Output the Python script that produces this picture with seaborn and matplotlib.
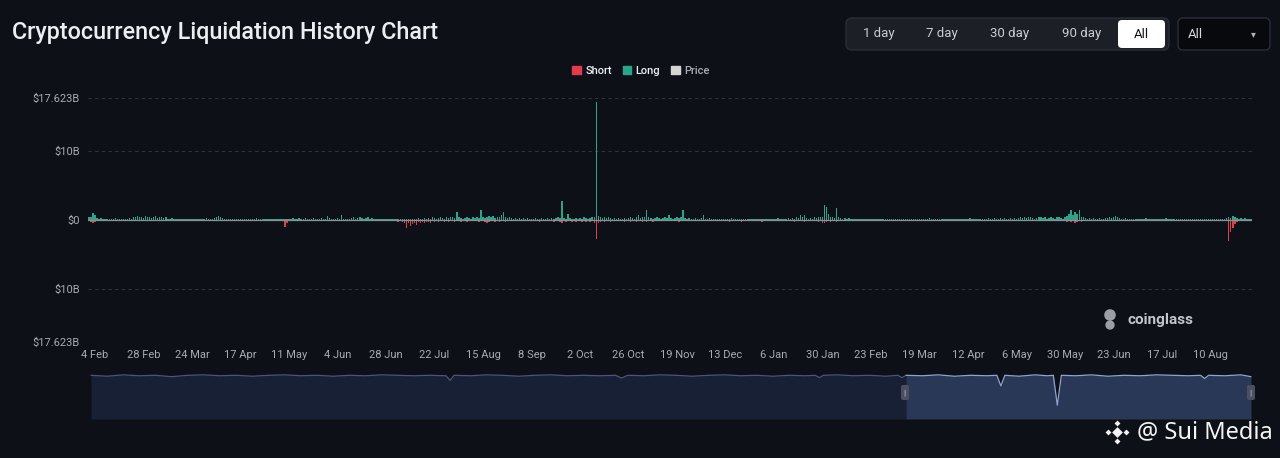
import matplotlib
matplotlib.use("Agg")
import matplotlib.pyplot as plt
import seaborn as sns
import numpy as np
import pandas as pd
from matplotlib.patches import FancyBboxPatch, Patch

# daily liquidations in $B (one row = 24 days)
long_b = [
    0.4,0.5,1.0,0.7,0.3,0.2,0.3,0.2,0.1,0.2,0.2,0.1,0.2,0.3,0.1,0.2,0.1,0.2,0.1,0.2,0.3,0.2,0.4,0.5,
    0.6,0.4,0.5,0.3,0.6,0.4,0.5,0.3,0.4,0.6,0.3,0.4,0.5,0.3,0.4,0.2,0.2,0.3,0.1,0.2,0.2,0.1,0.2,0.1,
    0.2,0.1,0.2,0.1,0.2,0.2,0.1,0.2,0.2,0.1,0.3,0.2,0.1,0.2,0.3,0.4,0.6,0.4,0.3,0.2,0.1,0.2,0.2,0.1,
    0.1,0.2,0.1,0.2,0.1,0.1,0.2,0.1,0.2,0.1,0.2,0.3,0.1,0.2,0.1,0.2,0.1,0.2,0.1,0.1,0.2,0.1,0.2,0.1,
    0.1,0.2,0.1,0.2,0.2,0.3,0.2,0.1,0.3,0.2,0.2,0.3,0.2,0.1,0.2,0.3,0.2,0.2,0.1,0.3,0.2,0.2,0.6,0.3,
    0.2,0.1,0.2,0.3,0.2,0.7,0.2,0.1,0.1,0.2,0.3,0.5,0.2,0.3,0.4,0.3,0.2,0.3,0.4,0.2,0.3,0.2,0.1,0.2,
    0.1,0.2,0.1,0.1,0.2,0.1,0.1,0.2,0.1,0.1,0.1,0.2,0.1,0.1,0.2,0.1,0.2,0.1,0.2,0.3,0.2,0.1,0.3,0.2,
    0.3,0.2,0.4,0.3,0.2,0.3,0.4,0.3,0.2,0.4,0.3,0.5,0.4,0.3,1.2,0.4,0.3,0.2,0.3,0.4,0.3,0.2,0.4,0.3,
    0.4,0.3,1.45,0.4,0.3,0.4,0.6,0.5,0.6,0.3,0.4,0.5,0.7,1.2,0.5,0.3,0.4,0.3,0.2,0.3,0.2,0.3,0.2,0.3,
    0.2,0.3,0.2,0.1,0.2,0.3,0.2,0.2,0.3,0.2,0.2,0.3,0.2,0.3,0.2,0.3,0.4,0.3,2.75,0.3,0.2,0.8,0.3,0.2,
    0.2,0.3,0.2,0.3,0.2,0.4,0.3,0.2,0.3,0.4,0.5,17.0,0.6,0.4,0.3,0.5,0.3,0.4,0.3,0.2,0.3,0.2,0.3,0.2,
    0.2,0.3,0.2,0.3,0.4,0.3,0.2,0.4,0.7,0.3,0.4,0.5,1.5,0.4,0.3,0.2,0.3,0.4,0.3,0.2,0.3,0.4,0.3,0.7,
    0.3,0.2,0.3,0.4,0.3,0.4,1.45,0.3,0.2,0.3,0.2,0.2,0.3,0.2,0.2,0.3,0.7,0.2,0.2,0.3,0.2,0.1,0.2,0.2,
    0.2,0.1,0.2,0.2,0.1,0.2,0.3,0.2,0.1,0.2,0.2,0.1,0.2,0.1,0.2,0.1,0.2,0.1,0.1,0.2,0.1,0.2,0.2,0.1,
    0.2,0.1,0.2,0.1,0.2,0.3,0.2,0.1,0.2,0.2,0.3,0.2,0.3,0.2,0.4,0.3,0.7,0.5,0.7,0.3,0.2,0.3,0.2,0.45,
    0.3,0.4,0.5,0.4,2.2,1.9,0.8,0.5,0.4,0.3,1.7,0.4,0.3,0.2,0.3,0.2,0.3,0.2,0.2,0.1,0.2,0.2,0.1,0.2,
    0.1,0.2,0.1,0.2,0.1,0.2,0.1,0.1,0.2,0.1,0.2,0.1,0.2,0.2,0.1,0.2,0.1,0.2,0.1,0.1,0.2,0.1,0.2,0.1,
    0.2,0.1,0.2,0.1,0.1,0.2,0.1,0.2,0.3,0.2,0.1,0.2,0.1,0.2,0.1,0.2,0.2,0.1,0.2,0.1,0.2,0.1,0.2,0.2,
    0.1,0.2,0.1,0.2,0.3,0.2,0.1,0.2,0.1,0.2,0.2,0.1,0.2,0.3,0.2,0.2,0.3,0.2,0.2,0.3,0.2,0.3,0.2,0.2,
    0.3,0.2,0.3,0.2,0.3,0.4,0.3,0.4,0.3,0.5,0.4,0.3,0.2,0.3,0.4,0.5,0.3,0.4,0.2,0.3,0.4,0.3,0.2,0.5,
    0.4,0.3,0.2,0.5,0.6,0.8,1.4,0.7,1.2,0.8,1.4,0.5,0.4,0.3,0.2,0.3,0.2,0.3,0.2,0.2,0.3,0.2,0.2,0.3,
    0.3,0.4,0.3,0.4,0.6,0.4,0.3,0.2,0.2,0.3,0.2,0.1,0.2,0.2,0.1,0.2,0.2,0.1,0.2,0.3,0.2,0.1,0.2,0.1,
    0.2,0.1,0.2,0.1,0.2,0.3,0.2,0.1,0.1,0.2,0.1,0.1,0.2,0.1,0.1,0.2,0.1,0.1,0.1,0.2,0.1,0.1,0.2,0.1,
    0.1,0.1,0.2,0.1,0.1,0.1,0.2,0.1,0.1,0.2,0.2,0.3,0.4,0.3,0.6,0.4,0.3,0.2,0.3,0.2,0.3,0.2,0.1,0.2,
]

short_b = [
    0.2,0.3,0.5,0.3,0.2,0.1,0.1,0.2,0.1,0.1,0.1,0.1,0.1,0.2,0.1,0.1,0.1,0.1,0.1,0.1,0.2,0.1,0.1,0.2,
    0.2,0.1,0.2,0.2,0.1,0.2,0.1,0.2,0.2,0.1,0.2,0.1,0.1,0.2,0.1,0.1,0.1,0.2,0.1,0.1,0.1,0.1,0.1,0.1,
    0.1,0.1,0.1,0.2,0.1,0.1,0.1,0.1,0.2,0.1,0.1,0.1,0.2,0.1,0.1,0.2,0.2,0.1,0.1,0.1,0.2,0.1,0.1,0.1,
    0.1,0.2,0.1,0.1,0.1,0.2,0.1,0.1,0.1,0.2,0.1,0.1,0.2,0.1,0.1,0.1,0.2,0.1,0.1,0.2,0.1,0.1,0.2,0.1,
    0.2,1.0,0.4,0.2,0.1,0.2,0.1,0.2,0.1,0.1,0.2,0.1,0.1,0.2,0.1,0.1,0.2,0.1,0.1,0.1,0.2,0.1,0.1,0.2,
    0.1,0.1,0.2,0.1,0.1,0.2,0.1,0.1,0.2,0.1,0.1,0.2,0.1,0.1,0.1,0.2,0.1,0.1,0.2,0.1,0.1,0.1,0.2,0.1,
    0.1,0.2,0.1,0.1,0.2,0.1,0.2,0.1,0.2,0.3,0.2,0.3,0.4,1.2,0.5,0.8,0.6,0.4,0.7,0.3,0.5,0.3,0.4,0.3,
    0.3,0.4,0.2,0.3,0.2,0.3,0.2,0.2,0.3,0.2,0.3,0.2,0.2,0.3,0.2,0.2,0.3,0.2,0.2,0.3,0.2,0.2,0.1,0.2,
    0.2,0.3,0.2,0.2,0.3,0.4,0.3,0.2,0.2,0.3,0.2,0.3,0.2,0.2,0.3,0.2,0.2,0.1,0.2,0.2,0.1,0.2,0.2,0.1,
    0.2,0.1,0.2,0.2,0.1,0.2,0.2,0.3,0.2,0.1,0.2,0.2,0.1,0.2,0.3,0.2,0.2,0.3,0.4,0.2,0.3,0.2,0.2,0.3,
    0.2,0.3,0.2,0.2,0.3,0.2,0.3,0.2,0.3,0.2,0.4,2.8,0.4,0.3,0.2,0.3,0.2,0.2,0.3,0.2,0.2,0.1,0.2,0.2,
    0.2,0.3,0.2,0.2,0.3,0.2,0.2,0.3,0.2,0.2,0.3,0.2,0.3,0.2,0.2,0.3,0.2,0.2,0.1,0.2,0.2,0.1,0.2,0.2,
    0.2,0.1,0.2,0.2,0.3,0.2,0.2,0.1,0.2,0.1,0.1,0.2,0.1,0.2,0.2,0.1,0.2,0.1,0.1,0.2,0.1,0.1,0.2,0.1,
    0.1,0.2,0.1,0.2,0.1,0.3,0.2,0.1,0.2,0.1,0.2,0.3,0.2,0.1,0.2,0.1,0.2,0.2,0.1,0.2,0.1,0.3,0.2,0.1,
    0.2,0.1,0.2,0.1,0.2,0.1,0.2,0.2,0.1,0.2,0.1,0.2,0.2,0.3,0.2,0.2,0.1,0.2,0.3,0.2,0.1,0.2,0.2,0.1,
    0.2,0.3,0.2,0.4,0.5,0.3,0.2,0.3,0.2,0.2,0.3,0.2,0.1,0.2,0.2,0.1,0.2,0.1,0.2,0.1,0.1,0.2,0.1,0.1,
    0.2,0.1,0.1,0.2,0.1,0.2,0.1,0.1,0.2,0.1,0.1,0.2,0.1,0.1,0.2,0.1,0.2,0.1,0.1,0.2,0.1,0.1,0.2,0.1,
    0.1,0.2,0.1,0.2,0.1,0.1,0.2,0.1,0.2,0.1,0.1,0.2,0.1,0.1,0.2,0.1,0.1,0.2,0.1,0.2,0.1,0.1,0.2,0.1,
    0.2,0.1,0.1,0.2,0.1,0.2,0.1,0.1,0.2,0.1,0.2,0.1,0.1,0.2,0.1,0.2,0.1,0.2,0.1,0.1,0.2,0.1,0.2,0.1,
    0.1,0.2,0.1,0.2,0.1,0.2,0.2,0.1,0.2,0.1,0.2,0.1,0.2,0.2,0.1,0.2,0.1,0.2,0.1,0.2,0.1,0.2,0.1,0.2,
    0.2,0.1,0.2,0.2,0.3,0.2,0.3,0.2,0.4,0.3,0.2,0.3,0.2,0.2,0.1,0.2,0.1,0.2,0.1,0.1,0.2,0.1,0.2,0.1,
    0.1,0.2,0.1,0.1,0.2,0.1,0.1,0.2,0.1,0.1,0.2,0.1,0.1,0.1,0.2,0.1,0.1,0.2,0.1,0.1,0.1,0.2,0.1,0.1,
    0.1,0.1,0.2,0.1,0.1,0.1,0.2,0.1,0.1,0.1,0.2,0.1,0.1,0.1,0.1,0.2,0.1,0.1,0.1,0.1,0.2,0.1,0.1,0.1,
    0.1,0.1,0.1,0.2,0.1,0.1,0.1,0.1,0.2,0.1,0.1,0.2,3.0,1.8,1.2,0.6,0.3,0.2,0.2,0.1,0.2,0.1,0.1,0.1,
]

# overview line in the zoom slider: day index and level (0..1 of slider height)
preview_day = [
    0, 8, 16, 24, 32, 40, 48, 56, 64, 72,
    80, 88, 96, 104, 112, 120, 128, 136, 144, 152,
    160, 168, 176, 178, 180, 188, 196, 204, 212, 220,
    228, 236, 244, 252, 260, 263, 266, 274, 282, 290,
    298, 306, 314, 322, 330, 338, 346, 354, 359, 361,
    363, 370, 378, 386, 394, 400, 402, 404, 412, 420,
    428, 436, 444, 449, 451, 453, 460, 468, 474, 477,
    479, 481, 488, 496, 504, 512, 520, 528, 536, 544,
    550, 552, 554, 562, 570, 575,
]
preview_val = [
    0.95, 0.93, 0.96, 0.94, 0.95, 0.92, 0.95, 0.96, 0.94, 0.95,
    0.93, 0.95, 0.96, 0.94, 0.95, 0.93, 0.95, 0.94, 0.96, 0.95,
    0.94, 0.95, 0.94, 0.84, 0.95, 0.94, 0.96, 0.95, 0.93, 0.95,
    0.96, 0.94, 0.95, 0.94, 0.95, 0.89, 0.95, 0.94, 0.96, 0.95,
    0.93, 0.95, 0.96, 0.94, 0.95, 0.93, 0.95, 0.94, 0.95, 0.90,
    0.95, 0.96, 0.94, 0.95, 0.93, 0.95, 0.90, 0.95, 0.94, 0.96,
    0.93, 0.95, 0.94, 0.95, 0.72, 0.95, 0.93, 0.96, 0.94, 0.95,
    0.30, 0.95, 0.94, 0.96, 0.93, 0.95, 0.94, 0.96, 0.95, 0.94,
    0.95, 0.88, 0.95, 0.94, 0.96, 0.92,
]

start_date = "2025-02-01"
y_max = 17.623
sel_start = 404   # first day inside the slider selection

n = len(long_b)
dates = pd.date_range(start_date, periods=n, freq="D")
days = np.arange(n)
tick_idx = list(range(3, n, 24))
tick_lab = [f"{dates[i].day} {dates[i].strftime('%b')}" for i in tick_idx]

bg = "#0d1017"
red = "#e33b4b"
green = "#2aa58b"
grey_txt = "#a7abb3"

sns.set_theme(style="dark")
plt.rcParams["font.family"] = ["Roboto", "DejaVu Sans"]

fig = plt.figure(figsize=(12.8, 4.58), dpi=100, facecolor=bg)


def pixel_axes(z):
    a = fig.add_axes([0, 0, 1, 1], zorder=z)
    a.set_xlim(0, 1280)
    a.set_ylim(458, 0)
    a.axis("off")
    a.patch.set_alpha(0)
    return a


# background layer in pixel coordinates for the page furniture
ov = pixel_axes(0)

ov.text(12, 32, "Cryptocurrency Liquidation History Chart", color="#eceef2",
        fontsize=16.8, fontweight="medium", va="center", ha="left")

ov.add_patch(FancyBboxPatch((846, 18), 323, 32, boxstyle="round,pad=0,rounding_size=6",
                            fc="#1c1f26", ec="#2b2e36", lw=1))
ov.add_patch(FancyBboxPatch((1118, 20), 47, 28, boxstyle="round,pad=0,rounding_size=4",
                            fc="#ffffff", ec="none"))
for lab, cx in zip(["1 day", "7 day", "30 day", "90 day"], [879, 942, 1010, 1082]):
    ov.text(cx, 34, lab, color="#c9ccd3", fontsize=9.5, ha="center", va="center")
ov.text(1141, 34, "All", color="#111111", fontsize=9.5, ha="center", va="center")
ov.add_patch(FancyBboxPatch((1178, 18), 92, 32, boxstyle="round,pad=0,rounding_size=5",
                            fc="#08090c", ec="#2b2e36", lw=1))
ov.text(1188, 34, "All", color="#d5d8de", fontsize=9.5, ha="left", va="center")
ov.text(1253, 34, "▾", color="#aeb2ba", fontsize=7, ha="center", va="center")

# coinglass watermark
ov.scatter([1110, 1110], [315, 325], s=[70, 45], color="#9a9ea6", marker="o", lw=0)
ov.text(1127, 320, "coinglass", color="#c2c5cb", fontsize=11, fontweight="bold",
        ha="left", va="center")

# Sui Media watermark
ov.scatter([1117], [432], s=30, marker="D", color="#f2f2f2", lw=0)
ov.scatter([1108, 1126, 1117, 1117], [432, 432, 423, 441], s=9, marker="D", color="#f2f2f2", lw=0)
ov.text(1137, 432, "@ Sui Media", color="#f4f4f4", fontsize=17, ha="left", va="center",
        family=["Noto Sans", "DejaVu Sans"])

# main chart
ax = fig.add_axes([88 / 1280, 1 - 342 / 458, 1164 / 1280, 244 / 458], zorder=1)
ax.set_facecolor("none")
sns.barplot(x=days, y=np.array(long_b), native_scale=True, color=green, width=0.7,
            linewidth=0, errorbar=None, ax=ax, saturation=1)
sns.barplot(x=days, y=-np.array(short_b), native_scale=True, color=red, width=0.7,
            linewidth=0, errorbar=None, ax=ax, saturation=1)
ax.axhline(0, color="#8d9098", lw=0.9, zorder=5)
ax.set_xlim(-0.5, n - 0.5)
ax.set_ylim(-y_max, y_max)
ax.set_yticks([y_max, 10, 0, -10, -y_max])
ax.set_yticklabels(["$17.623B", "$10B", "$0", "$10B", "$17.623B"])
ax.set_xticks(tick_idx)
ax.set_xticklabels(tick_lab)
ax.tick_params(axis="both", length=0, colors=grey_txt, labelsize=8)
ax.tick_params(axis="y", pad=6)
ax.tick_params(axis="x", pad=6)
ax.yaxis.grid(True, color="#2e323b", lw=0.8, ls=(0, (3, 3)))
ax.xaxis.grid(False)
ax.set_xlabel("")
ax.set_ylabel("")
for s in ax.spines.values():
    s.set_visible(False)

leg = ax.legend(handles=[Patch(color=red), Patch(color=green), Patch(color="#d4d4d4")],
                labels=["Short", "Long", "Price"], loc="center", bbox_to_anchor=(0.475, 1.11),
                ncol=3, frameon=False, handlelength=0.75, handleheight=0.75,
                handletextpad=0.4, columnspacing=1.0, fontsize=8)
for t, c in zip(leg.get_texts(), ["#eceef2", "#eceef2", "#a9adb5"]):
    t.set_color(c)
    t.set_fontweight("medium")

# zoom slider with overview line
sl = fig.add_axes([90 / 1280, 1 - 419 / 458, 1162 / 1280, 46 / 458], zorder=1)
sl.set_facecolor("none")
px = np.array(preview_day)
pv = np.array(preview_val)
left = px <= sel_start
right = px >= sel_start
sl.fill_between(px[left], 0, pv[left], color="#172034", lw=0)
sl.fill_between(px[right], 0, pv[right], color="#2a3858", lw=0)
sns.lineplot(x=px[left], y=pv[left], color="#46577a", lw=0.9, ax=sl)
sns.lineplot(x=px[right], y=pv[right], color="#8fa3cf", lw=0.9, ax=sl)
sl.set_xlim(-0.5, n - 0.5)
sl.set_ylim(0, 1)
sl.axis("off")

# slider handles on top of everything
top = pixel_axes(3)
for hx in [905, 1251]:
    top.add_patch(FancyBboxPatch((hx - 4, 385), 8, 15, boxstyle="round,pad=0,rounding_size=2",
                                 fc="#4a5061", ec="none"))
    top.text(hx, 392.5, "||", color="#9aa0ad", fontsize=5, ha="center", va="center")

fig.savefig("out.png", dpi=100, facecolor=bg)
